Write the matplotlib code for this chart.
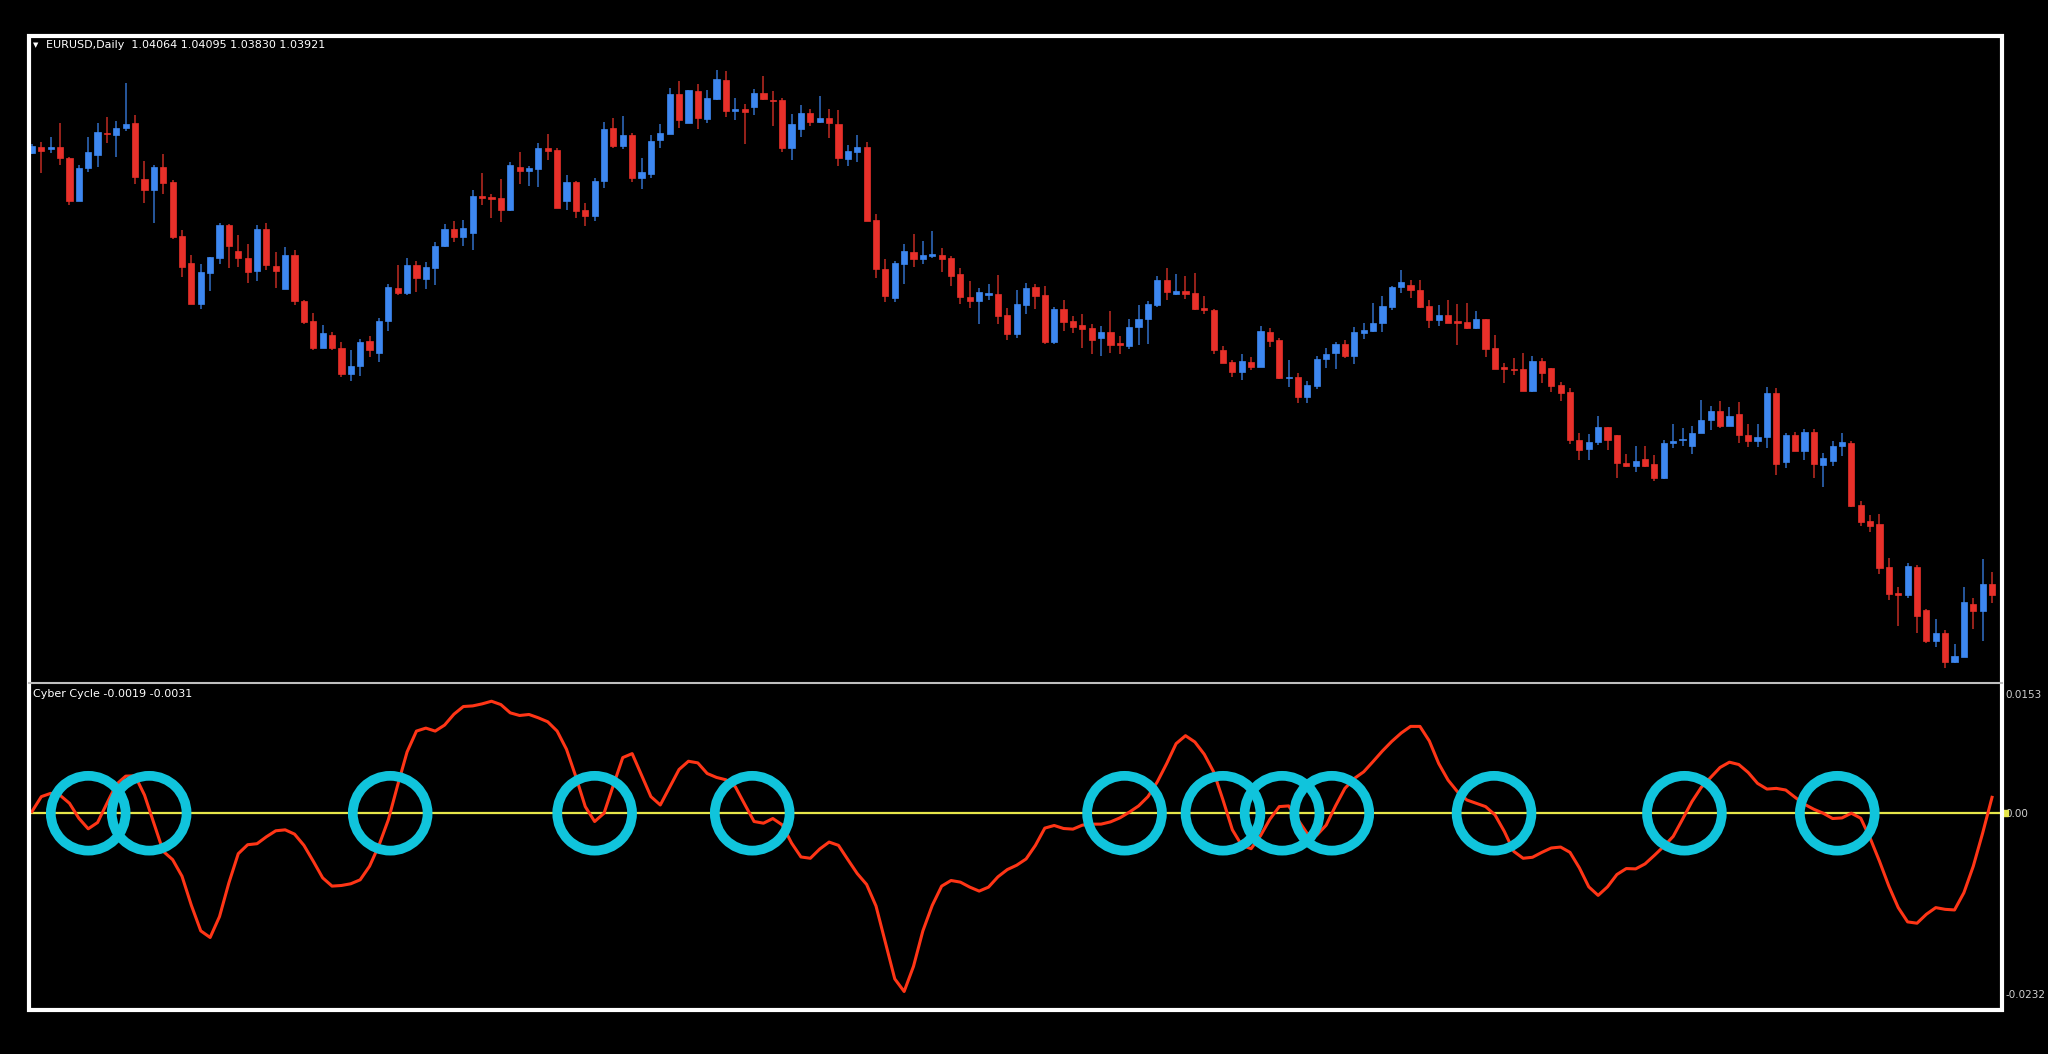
import matplotlib
matplotlib.use("Agg")
import matplotlib.pyplot as plt
from matplotlib.patches import Rectangle
import numpy as np

# OHLC in chart points (price panel has no scale shown)
ohlc = [
(548,557,547,555),(554,559,528,550),(552,564,548,554),(554,578,536,543),(543,544,496,500),
(500,536,500,533),(533,564,529,549),(546,578,534,569),(568,584,558,567),(566,580,544,573),
(573,618,570,577),(578,586,517,524),(522,540,498,511),(511,536,478,534),(534,547,507,518),
(519,521,462,464),(465,471,424,434),(438,446,397,397),(397,437,392,429),(428,444,410,444),
(443,478,437,476),(476,477,433,455),(450,466,434,443),(443,457,418,429),(430,476,420,472),
(472,478,431,436),(435,449,413,430),(412,454,412,446),(446,451,396,400),(400,401,377,379),
(380,388,351,353),(353,376,353,368),(366,369,351,353),(353,359,323,326),(326,351,319,334),
(334,362,324,359),(360,365,344,351),(348,383,338,380),(380,417,370,414),(413,436,406,408),
(408,443,406,436),(436,440,409,423),(422,439,412,434),(433,459,416,455),(455,477,454,472),
(472,480,459,464),(464,481,455,473),(468,511,451,505),(505,528,496,503),(504,507,483,502),
(503,522,479,491),(491,539,490,536),(534,549,517,530),(530,535,515,533),(532,558,514,553),
(553,567,541,550),(551,553,493,493),(500,526,491,519),(519,520,483,490),(491,498,475,485),
(485,523,480,520),(520,579,513,572),(573,583,553,555),(555,585,552,566),(566,568,519,523),
(523,543,512,529),(527,566,523,560),(561,577,553,568),(567,613,567,607),(607,620,573,581),
(578,611,578,611),(610,617,572,583),(582,611,578,603),(602,631,601,622),(621,630,584,590),
(590,603,581,592),(592,597,557,589),(594,612,586,608),(608,625,601,602),(601,610,575,600),
(601,603,549,553),(553,587,541,577),(572,596,564,588),(588,592,575,579),(579,605,578,583),
(583,592,563,578),(577,591,535,543),(542,556,535,550),(549,566,539,554),(554,559,480,480),
(481,487,423,432),(432,442,399,405),(403,440,399,438),(437,457,417,450),(449,467,434,442),
(442,460,437,446),(445,470,443,446),(446,453,429,442),(443,445,415,425),(427,433,397,404),
(404,420,393,400),(400,413,377,409),(406,417,401,407),(407,426,377,385),(386,393,361,367),
(367,411,363,397),(396,418,387,413),(414,417,392,405),(406,415,357,359),(359,394,357,392),
(392,401,370,379),(380,385,368,374),(376,387,353,372),(373,377,347,361),(363,375,345,369),
(369,390,348,356),(357,365,347,356),(355,382,352,374),(374,396,356,382),(382,400,357,397),
(396,425,394,421),(421,433,401,409),(407,427,406,410),(410,425,402,407),(408,428,391,392),
(392,405,387,391),(391,392,347,351),(351,355,337,337),(338,341,323,328),(328,347,320,339),
(338,344,330,333),(333,375,333,370),(369,373,354,360),(361,363,321,322),(322,341,313,323),
(323,327,297,303),(303,319,297,315),(314,345,311,342),(342,353,332,347),(348,359,331,357),
(357,361,343,345),(345,374,336,369),(368,378,362,371),(370,398,369,378),(378,405,369,395),
(394,415,391,414),(414,431,408,419),(416,421,403,411),(411,421,393,394),(395,401,373,381),
(381,396,375,386),(386,401,378,378),(380,397,356,378),(379,398,372,373),(373,390,372,382),
(382,382,344,352),(353,366,331,331),(333,337,317,331),(331,343,325,330),(331,348,309,309),
(309,345,308,339),(339,343,317,327),(332,332,308,314),(315,318,299,307),(308,312,256,260),
(260,267,240,250),(251,266,240,258),(258,284,255,273),(273,273,250,260),(265,265,222,237),
(237,246,233,234),(234,254,228,239),(241,254,233,234),(236,245,219,222),(222,260,221,257),
(257,276,252,259),(260,272,254,261),(254,274,246,267),(267,300,267,280),(280,294,270,289),
(289,299,272,274),(274,293,274,284),(286,298,257,265),(265,276,253,259),(259,276,253,263),
(263,313,252,307),(307,312,225,236),(238,267,232,265),(265,268,249,249),(249,271,240,268),
(268,271,222,236),(235,247,213,242),(239,259,234,254),(254,267,244,258),(257,259,193,194),
(195,199,174,178),(179,185,168,174),(176,186,126,132),(133,142,100,106),(107,113,74,105),
(105,137,102,134),(133,135,67,84),(90,91,57,59),(59,81,53,67),(67,70,32,38),
(38,56,37,44),(43,113,43,98),(96,102,71,89),(89,141,59,116),(116,128,97,105),
]
opens = [r[0] for r in ohlc]
highs = [r[1] for r in ohlc]
lows = [r[2] for r in ohlc]
closes = [r[3] for r in ohlc]

# Cyber Cycle values (units of 1e-4)
cyber = [
2.1,21.3,25.5,23.0,12.8,-6.4,-20.0,-11.9,12.8,37.0,
47.6,48.0,23.4,-12.8,-48.9,-59.5,-80.8,-118.2,-150.9,-159.4,
-132.6,-89.3,-51.9,-40.4,-39.1,-30.2,-22.5,-21.3,-26.8,-41.2,
-61.6,-82.9,-93.5,-92.7,-90.5,-85.4,-68.0,-41.2,-8.5,36.1,
78.6,105.4,109.2,105.4,113.1,127.1,136.9,137.7,140.3,143.7,
139.4,128.8,125.4,126.7,122.4,117.3,105.4,82.0,46.8,8.5,
-10.6,0.0,36.1,71.4,76.5,48.9,21.3,10.6,33.2,56.1,
66.7,64.6,51.0,45.9,42.9,34.0,11.5,-10.6,-12.8,-6.8,
-14.9,-38.3,-56.1,-57.8,-45.9,-37.0,-41.2,-59.5,-77.4,-91.4,
-119.0,-165.8,-212.5,-228.7,-196.4,-150.9,-118.2,-93.5,-86.3,-88.4,
-94.8,-99.9,-94.8,-81.6,-72.3,-66.7,-58.7,-41.2,-19.1,-15.7,
-19.6,-20.4,-15.3,-14.0,-14.0,-11.1,-6.0,1.3,9.4,21.3,
40.4,63.8,89.3,99.5,91.4,75.7,53.1,17.0,-21.3,-41.2,
-45.5,-28.9,-7.7,8.5,9.4,-8.5,-26.4,-28.1,-15.3,9.4,
31.9,44.6,53.1,66.3,79.9,92.2,102.9,111.4,111.4,92.7,
63.8,42.5,27.6,17.0,12.8,8.5,-2.1,-23.4,-48.9,-57.8,
-56.5,-50.2,-44.6,-43.4,-50.2,-70.1,-94.4,-105.4,-94.4,-78.6,
-71.0,-71.4,-65.0,-54.0,-42.5,-29.8,-7.7,14.9,33.2,45.9,
58.7,65.5,62.5,52.3,38.3,31.0,31.9,29.8,20.4,11.5,
5.1,0.0,-6.8,-6.0,0.0,-6.4,-31.9,-61.6,-93.5,-121.1,
-139.4,-141.1,-129.6,-121.1,-123.3,-124.1,-102.0,-68.0,-25.5,20.4,
]

circle_idx = [6.0, 12.5, 38.2, 60.0, 76.8, 116.5, 127.0, 133.3, 138.6, 155.9, 176.2, 192.5]
osc_ticks = [153, 0, -232]
osc_tick_labels = ["0.0153", "0.00", "-0.0232"]

BULL, BEAR = "#3d87f0", "#e8302a"
BULL_W, BEAR_W = "#2a5ea8", "#a3251d"

W, H = 2048, 1054
fig = plt.figure(figsize=(W/100, H/100), dpi=100, facecolor="black")
L, R = 31/W, 2000/W
ax = fig.add_axes([L, 1-683/H, R-L, (683-38)/H], facecolor="black")
ax2 = fig.add_axes([L, 1-1007/H, R-L, (1007-684)/H], facecolor="black")

x = np.arange(len(opens))
o = np.array(opens); c = np.array(closes); h = np.array(highs); l = np.array(lows)
up = c >= o
wcol = np.where(up, BULL_W, BEAR_W)
bcol = np.where(up, BULL, BEAR)
ax.vlines(x, l, h, colors=wcol, linewidth=1.3, zorder=1)
bottom = np.minimum(o, c)
height = np.maximum(np.abs(c - o), 1.2)
ax.bar(x, height, bottom=bottom, width=0.66, color=bcol, edgecolor=bcol, linewidth=0.5, zorder=2)
ax.set_xlim(-0.1, 209.85)
ax.set_ylim(17, 663)

ax2.axhline(0, color="#e6e64a", lw=1.6, zorder=1)
ax2.plot(np.arange(len(cyber)), cyber, color="#ff3516", lw=2.2, zorder=2)
ax2.scatter(circle_idx, [0]*len(circle_idx), s=2900, facecolors="none",
            edgecolors="#10c4dc", linewidths=7, zorder=3)
ax2.set_xlim(-0.1, 209.85)
ax2.set_ylim(-248.6, 165.8)

for a in (ax, ax2):
    for s in a.spines.values():
        s.set_visible(False)
    a.set_xticks([])
    a.set_yticks([])

ax2.yaxis.tick_right()
ax2.set_yticks(osc_ticks)
ax2.set_yticklabels(osc_tick_labels, color="#d0d0d0", fontsize=7.5)
ax2.tick_params(axis="y", length=0, pad=4)
ax2.plot([210.35], [0], marker="s", ms=5, color="#e6e64a", clip_on=False, zorder=5)

fig.patches.append(Rectangle((29/W, 1-1010/H), (2002-29)/W, (1010-36)/H, transform=fig.transFigure,
                             fill=False, edgecolor="white", lw=3))
fig.add_artist(plt.Line2D([29/W, 2002/W], [1-683/H, 1-683/H], transform=fig.transFigure,
                          color="#bfbfbf", lw=1.5))

fig.text(33/W, 1-45/H, "▼", color="white", fontsize=5, va="center")
fig.text(46/W, 1-45/H, "EURUSD,Daily  1.04064 1.04095 1.03830 1.03921", color="white",
         fontsize=8, va="center")
fig.text(33/W, 1-694/H, "Cyber Cycle -0.0019 -0.0031", color="white", fontsize=8, va="center")

fig.savefig("out.png", dpi=100, facecolor="black")
